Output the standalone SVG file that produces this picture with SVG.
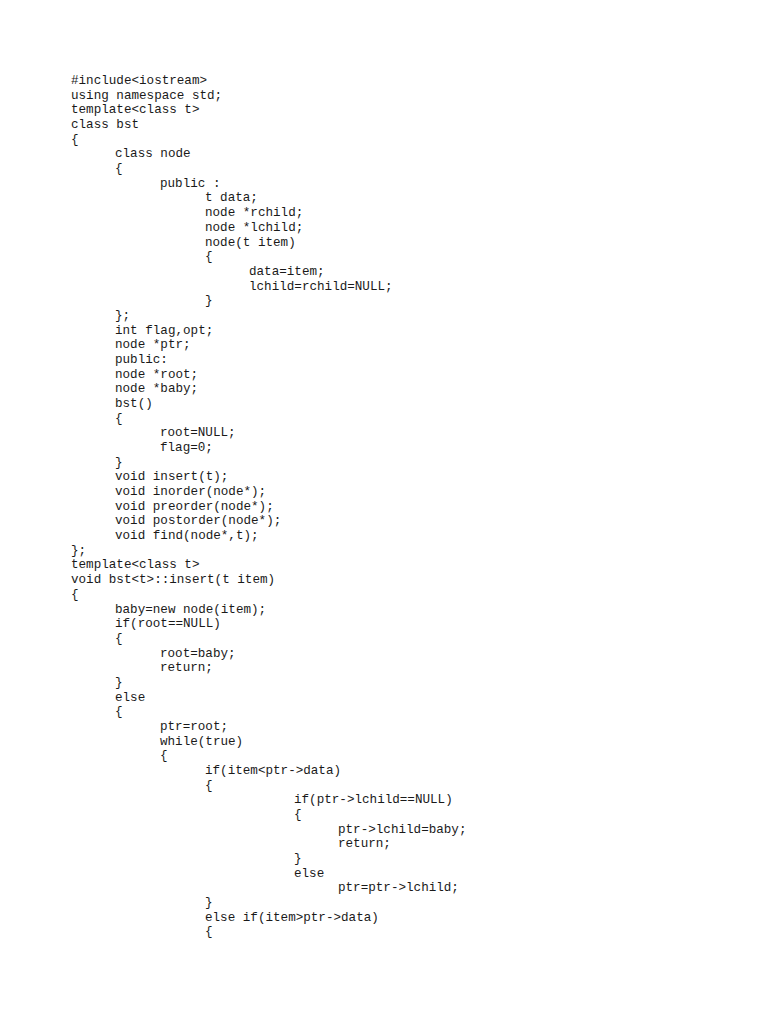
<svg xmlns="http://www.w3.org/2000/svg" width="768" height="1024" viewBox="0 0 768 1024">
<style>text{font-family:"Liberation Mono","DejaVu Sans Mono",monospace;font-size:12.6px;fill:#1a1a1a}</style>
<rect width="768" height="1024" fill="#fff"/>
<text>
<tspan x="71" y="84">#include&lt;iostream&gt;</tspan>
<tspan x="71" y="98.7">using namespace std;</tspan>
<tspan x="71" y="113.4">template&lt;class t&gt;</tspan>
<tspan x="71" y="128">class bst</tspan>
<tspan x="71" y="142.7">{</tspan>
<tspan x="115" y="157.4">class node</tspan>
<tspan x="115" y="172.1">{</tspan>
<tspan x="160" y="186.8">public :</tspan>
<tspan x="205" y="201.4">t data;</tspan>
<tspan x="205" y="216.1">node *rchild;</tspan>
<tspan x="205" y="230.8">node *lchild;</tspan>
<tspan x="205" y="245.5">node(t item)</tspan>
<tspan x="205" y="260.2">{</tspan>
<tspan x="249" y="274.8">data=item;</tspan>
<tspan x="249" y="289.5">lchild=rchild=NULL;</tspan>
<tspan x="205" y="304.2">}</tspan>
<tspan x="115" y="318.9">};</tspan>
<tspan x="115" y="333.6">int flag,opt;</tspan>
<tspan x="115" y="348.2">node *ptr;</tspan>
<tspan x="115" y="362.9">public:</tspan>
<tspan x="115" y="377.6">node *root;</tspan>
<tspan x="115" y="392.3">node *baby;</tspan>
<tspan x="115" y="407">bst()</tspan>
<tspan x="115" y="421.6">{</tspan>
<tspan x="160" y="436.3">root=NULL;</tspan>
<tspan x="160" y="451">flag=0;</tspan>
<tspan x="115" y="465.7">}</tspan>
<tspan x="115" y="480.4">void insert(t);</tspan>
<tspan x="115" y="495">void inorder(node*);</tspan>
<tspan x="115" y="509.7">void preorder(node*);</tspan>
<tspan x="115" y="524.4">void postorder(node*);</tspan>
<tspan x="115" y="539.1">void find(node*,t);</tspan>
<tspan x="71" y="553.8">};</tspan>
<tspan x="71" y="568.4">template&lt;class t&gt;</tspan>
<tspan x="71" y="583.1">void bst&lt;t&gt;::insert(t item)</tspan>
<tspan x="71" y="597.8">{</tspan>
<tspan x="115" y="612.5">baby=new node(item);</tspan>
<tspan x="115" y="627.2">if(root==NULL)</tspan>
<tspan x="115" y="641.8">{</tspan>
<tspan x="160" y="656.5">root=baby;</tspan>
<tspan x="160" y="671.2">return;</tspan>
<tspan x="115" y="685.9">}</tspan>
<tspan x="115" y="700.6">else</tspan>
<tspan x="115" y="715.2">{</tspan>
<tspan x="160" y="729.9">ptr=root;</tspan>
<tspan x="160" y="744.6">while(true)</tspan>
<tspan x="160" y="759.3">{</tspan>
<tspan x="205" y="774">if(item&lt;ptr-&gt;data)</tspan>
<tspan x="205" y="788.6">{</tspan>
<tspan x="294" y="803.3">if(ptr-&gt;lchild==NULL)</tspan>
<tspan x="294" y="818">{</tspan>
<tspan x="338" y="832.7">ptr-&gt;lchild=baby;</tspan>
<tspan x="338" y="847.4">return;</tspan>
<tspan x="294" y="862">}</tspan>
<tspan x="294" y="876.7">else</tspan>
<tspan x="338" y="891.4">ptr=ptr-&gt;lchild;</tspan>
<tspan x="205" y="906.1">}</tspan>
<tspan x="205" y="920.8">else if(item&gt;ptr-&gt;data)</tspan>
<tspan x="205" y="935.4">{</tspan>
</text>
</svg>
